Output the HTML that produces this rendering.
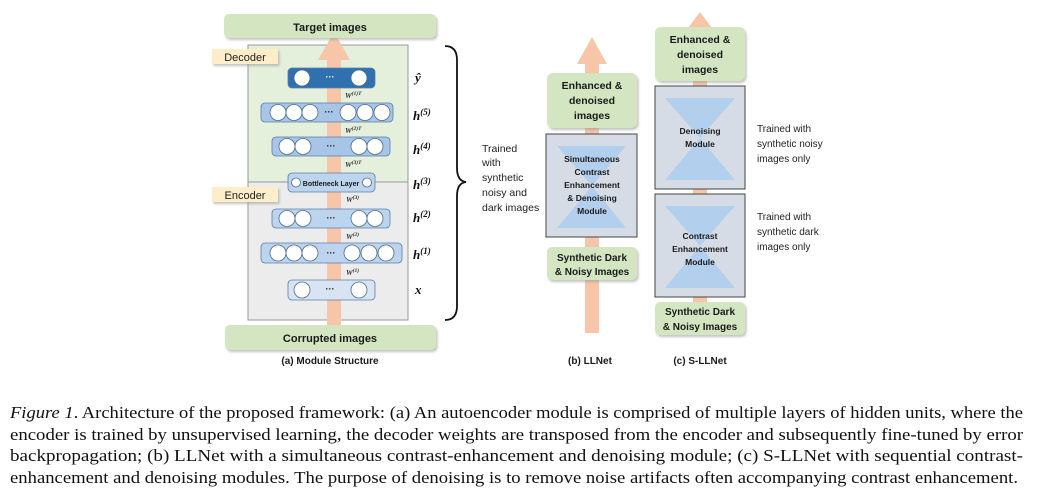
<!DOCTYPE html>
<html><head><meta charset="utf-8"><style>
html,body{margin:0;padding:0;background:#fff;}
svg{display:block;}
.s{font-family:"Liberation Sans",sans-serif;}
.b{font-family:"Liberation Sans",sans-serif;font-weight:bold;fill:#1a1a1a;}
.m{font-family:"Liberation Serif",serif;font-weight:bold;font-style:italic;}
.c{font-family:"Liberation Serif",serif;font-size:17px;fill:#111;}
</style></head><body>
<svg width="1040" height="497" viewBox="0 0 1040 497" xmlns="http://www.w3.org/2000/svg">
<defs>
<filter id="sh" x="-10%" y="-10%" width="130%" height="140%"><feDropShadow dx="1.5" dy="2" stdDeviation="1.2" flood-color="#999" flood-opacity="0.6"/></filter>
</defs>
<rect x="248" y="45" width="160" height="137" fill="#e4efdc" stroke="#999" stroke-width="1"/>
<rect x="248" y="182" width="160" height="138" fill="#ececec" stroke="#999" stroke-width="1"/>
<rect x="327" y="55" width="14" height="278" fill="#f7c6a8"/>
<polygon points="334,32 318,60 350,60" fill="#f7c6a8"/>
<rect x="224" y="14" width="212" height="24" rx="5" fill="#d3e5c1" filter="url(#sh)"/>
<text x="330" y="31" text-anchor="middle" class="b" font-size="11">Target images</text>
<rect x="212" y="49" width="66" height="15" fill="#fdedc9" filter="url(#sh)"/>
<text x="245" y="61" text-anchor="middle" class="s" font-size="11" fill="#222">Decoder</text>
<rect x="212" y="187" width="66" height="15" fill="#fdedc9" filter="url(#sh)"/>
<text x="245" y="199" text-anchor="middle" class="s" font-size="11" fill="#222">Encoder</text>
<g stroke="#5a7fa8" stroke-width="0.8">
<rect x="288" y="68" width="87" height="20" rx="4" fill="#2e70b0"/>
<rect x="261" y="103" width="132" height="19" rx="4" fill="#a7c5e6"/>
<rect x="272" y="137" width="118" height="19" rx="4" fill="#a7c5e6"/>
<rect x="288" y="173" width="87" height="19" rx="4" fill="#bcd4ee"/>
<rect x="272" y="209" width="118" height="19" rx="4" fill="#bcd4ee"/>
<rect x="261" y="243" width="141" height="20" rx="4" fill="#bcd4ee"/>
<rect x="288" y="280" width="87" height="20" rx="4" fill="#d8e4f2"/>
</g>
<g fill="#fff" stroke="#4a6a90" stroke-width="0.8">
<circle cx="302" cy="78" r="8"/><circle cx="359" cy="78" r="8"/>
<circle cx="278" cy="112.5" r="8"/><circle cx="294" cy="112.5" r="8"/><circle cx="310" cy="112.5" r="8"/><circle cx="348" cy="112.5" r="8"/><circle cx="365" cy="112.5" r="8"/><circle cx="382" cy="112.5" r="8"/>
<circle cx="287" cy="146.5" r="8"/><circle cx="303" cy="146.5" r="8"/><circle cx="359" cy="146.5" r="8"/><circle cx="375" cy="146.5" r="8"/>
<circle cx="296" cy="182.5" r="4.5"/><circle cx="367" cy="182.5" r="4.5"/>
<circle cx="287" cy="218.5" r="8"/><circle cx="303" cy="218.5" r="8"/><circle cx="359" cy="218.5" r="8"/><circle cx="375" cy="218.5" r="8"/>
<circle cx="278" cy="253" r="8"/><circle cx="294" cy="253" r="8"/><circle cx="310" cy="253" r="8"/><circle cx="352" cy="253" r="8"/><circle cx="369" cy="253" r="8"/><circle cx="386" cy="253" r="8"/>
<circle cx="302" cy="290" r="8"/><circle cx="359" cy="290" r="8"/>
</g>
<g class="b" font-size="9" text-anchor="middle">
<text x="330" y="80" fill="#fff">···</text>
<text x="329" y="115">···</text><text x="331" y="149">···</text>
<text x="331" y="221">···</text><text x="331" y="256">···</text><text x="330" y="292">···</text>
<text x="331" y="186" font-size="7">Bottleneck Layer</text>
</g>
<g class="m" font-size="7.5" fill="#333">
<text x="345" y="98">W<tspan font-size="5.5" dy="-3">(1)T</tspan></text>
<text x="345" y="133">W<tspan font-size="5.5" dy="-3">(2)T</tspan></text>
<text x="345" y="167">W<tspan font-size="5.5" dy="-3">(3)T</tspan></text>
<text x="346" y="202">W<tspan font-size="5.5" dy="-3">(3)</tspan></text>
<text x="346" y="239">W<tspan font-size="5.5" dy="-3">(2)</tspan></text>
<text x="346" y="275">W<tspan font-size="5.5" dy="-3">(1)</tspan></text>
</g>
<g class="m" font-size="13" fill="#111">
<text x="415" y="82">ŷ</text>
<text x="413" y="120">h<tspan font-size="9" dy="-5">(5)</tspan></text>
<text x="413" y="154">h<tspan font-size="9" dy="-5">(4)</tspan></text>
<text x="413" y="189">h<tspan font-size="9" dy="-5">(3)</tspan></text>
<text x="413" y="222">h<tspan font-size="9" dy="-5">(2)</tspan></text>
<text x="413" y="259">h<tspan font-size="9" dy="-5">(1)</tspan></text>
<text x="415" y="294">x</text>
</g>
<rect x="225" y="325" width="211" height="25" rx="5" fill="#d3e5c1" filter="url(#sh)"/>
<text x="330" y="342" text-anchor="middle" class="b" font-size="11">Corrupted images</text>
<text x="330" y="364" text-anchor="middle" class="b" font-size="10">(a) Module Structure</text>
<path d="M445,46 Q457,46 457,60 L457,168 Q457,181 466,182 Q457,183 457,196 L457,306 Q457,320 445,320" fill="none" stroke="#111" stroke-width="1.8"/>
<g class="s" font-size="10.5" fill="#222">
<text x="482" y="152">Trained</text><text x="482" y="166">with</text><text x="482" y="181">synthetic</text><text x="482" y="196">noisy and</text><text x="482" y="211">dark images</text>
</g>
<rect x="585" y="58" width="14" height="275" fill="#f7c6a8"/>
<polygon points="592,37 577,64 607,64" fill="#f7c6a8"/>
<rect x="547" y="73" width="90" height="55" rx="6" fill="#d3e5c1" filter="url(#sh)"/>
<g class="b" font-size="10.5" text-anchor="middle"><text x="592" y="89">Enhanced &amp;</text><text x="592" y="104">denoised</text><text x="592" y="119">images</text></g>
<rect x="546" y="134" width="91" height="103" fill="#d6dce6" stroke="#444" stroke-width="1"/>
<polygon points="557,146 626,146 592,186 626,228 557,228 592,186" fill="#b3cfee"/>
<g class="b" font-size="8.5" text-anchor="middle"><text x="592" y="162">Simultaneous</text><text x="592" y="175">Contrast</text><text x="592" y="188">Enhancement</text><text x="592" y="201">&amp; Denoising</text><text x="592" y="214">Module</text></g>
<rect x="547" y="247" width="90" height="33" rx="5" fill="#d3e5c1" filter="url(#sh)"/>
<g class="b" font-size="10" text-anchor="middle"><text x="592" y="261">Synthetic Dark</text><text x="592" y="275">&amp; Noisy Images</text></g>
<text x="590" y="364" text-anchor="middle" class="b" font-size="10">(b) LLNet</text>
<rect x="693" y="25" width="14" height="310" fill="#f7c6a8"/>
<polygon points="700,12 688,28 712,28" fill="#f7c6a8"/>
<rect x="655" y="27" width="90" height="54" rx="6" fill="#d3e5c1" filter="url(#sh)"/>
<g class="b" font-size="10.5" text-anchor="middle"><text x="700" y="43">Enhanced &amp;</text><text x="700" y="58">denoised</text><text x="700" y="73">images</text></g>
<rect x="655" y="86" width="90" height="103" fill="#d6dce6" stroke="#444" stroke-width="1"/>
<polygon points="665,98 735,98 700,138 735,180 665,180 700,138" fill="#b3cfee"/>
<g class="b" font-size="8.5" text-anchor="middle"><text x="700" y="134">Denoising</text><text x="700" y="147">Module</text></g>
<rect x="655" y="194" width="90" height="103" fill="#d6dce6" stroke="#444" stroke-width="1"/>
<polygon points="665,206 735,206 700,246 735,288 665,288 700,246" fill="#b3cfee"/>
<g class="b" font-size="8.5" text-anchor="middle"><text x="700" y="239">Contrast</text><text x="700" y="252">Enhancement</text><text x="700" y="265">Module</text></g>
<rect x="655" y="302" width="90" height="33" rx="5" fill="#d3e5c1" filter="url(#sh)"/>
<g class="b" font-size="10" text-anchor="middle"><text x="700" y="315">Synthetic Dark</text><text x="700" y="330">&amp; Noisy Images</text></g>
<text x="700" y="364" text-anchor="middle" class="b" font-size="10">(c) S-LLNet</text>
<g class="s" font-size="10" fill="#222">
<text x="757" y="132">Trained with</text><text x="757" y="147">synthetic noisy</text><text x="757" y="162">images only</text>
<text x="757" y="220">Trained with</text><text x="757" y="235">synthetic dark</text><text x="757" y="250">images only</text>
</g>
<g class="c">
<text x="10" y="418" textLength="1013" lengthAdjust="spacingAndGlyphs"><tspan font-style="italic">Figure 1</tspan>. Architecture of the proposed framework: (a) An autoencoder module is comprised of multiple layers of hidden units, where the</text>
<text x="10" y="440" textLength="1013" lengthAdjust="spacingAndGlyphs">encoder is trained by unsupervised learning, the decoder weights are transposed from the encoder and subsequently fine-tuned by error</text>
<text x="10" y="461" textLength="1013" lengthAdjust="spacingAndGlyphs">backpropagation; (b) LLNet with a simultaneous contrast-enhancement and denoising module; (c) S-LLNet with sequential contrast-</text>
<text x="10" y="483" textLength="1008" lengthAdjust="spacingAndGlyphs">enhancement and denoising modules. The purpose of denoising is to remove noise artifacts often accompanying contrast enhancement.</text>
</g>
</svg>
</body></html>
